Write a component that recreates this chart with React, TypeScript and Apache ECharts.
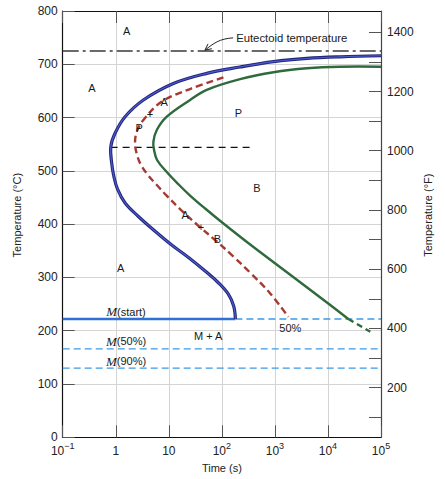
import React, { useEffect, useRef } from "react";
import * as echarts from "echarts";

// ---------- data ----------
const timeMin = 0.1;
const timeMax = 100000;
const tempMin = 0;
const tempMax = 800;
const tempInterval = 100;
const fahrenheitTicks = [100, 200, 300, 400, 500, 600, 700, 800, 900, 1000, 1100, 1200, 1300, 1400];
const fahrenheitLabels = [200, 400, 600, 800, 1000, 1200, 1400];

// start of transformation (time s, temperature °C)
const startCurve: [number, number][] = [
  [100000, 716], [17000, 714], [4020, 711], [942, 705], [221, 695], [52, 683],
  [12.2, 664], [3.32, 633], [1.5, 601.6], [0.97, 570.5], [0.806, 545],
  [0.84, 514], [0.92, 490], [1.08, 465.6], [1.5, 439.7], [2.64, 414.9],
  [5.52, 386.7], [11.5, 360.4], [24.2, 336.5], [48.4, 312], [85.1, 290.5],
  [131.5, 269], [167, 246.4], [180, 222],
];

// 50% completion
const halfCurve: [number, number][] = [
  [107, 675.5], [25.2, 653.6], [7.38, 630], [3.32, 595.4], [2.49, 573.5],
  [2.31, 551.7], [2.52, 529.7], [3.0, 511], [4.06, 492], [5.75, 475],
  [8.9, 454.6], [16.3, 428.4], [35.7, 397.4], [80.5, 367.4], [166, 339],
  [342, 309], [815, 270], [1782, 226],
];

// completion of transformation
const finishCurve: [number, number][] = [
  [100000, 695.5], [17000, 695.5], [4020, 692.5], [942, 685], [221, 672], [52, 652],
  [25.2, 633], [9.16, 601.6], [5.94, 576.6], [5.12, 554.7], [5.28, 539], [6.01, 520.4],
  [9.16, 497.9], [15, 475.4], [25.2, 453.7], [48.4, 429.3], [101.4, 403.1],
  [342, 361.8], [2090, 302.7], [11040, 248.3], [24200, 222],
];
const finishBelowMs: [number, number][] = [[24200, 222], [62800, 198]];

const eutectoidTemp = 725;
const noseTemp = 544;
const noseSpan = [0.8, 400];
const msStart = 222;
const ms50 = 166;
const ms90 = 130;
const msCurveEnd = 180;

const regionLabels: { text: string; t: number; T: number }[] = [
  { text: "A", t: 1.61, T: 762 },
  { text: "A", t: 0.357, T: 655 },
  { text: "A", t: 8.15, T: 630 },
  { text: "+", t: 4.43, T: 606.7 },
  { text: "P", t: 2.75, T: 580 },
  { text: "P", t: 206, T: 609 },
  { text: "B", t: 457, T: 467 },
  { text: "A", t: 20.3, T: 417 },
  { text: "+", t: 40.2, T: 395 },
  { text: "B", t: 82.7, T: 371.5 },
  { text: "A", t: 1.24, T: 317 },
  { text: "M + A", t: 55.2, T: 190.7 },
  { text: "50%", t: 1950, T: 206 },
];
const martensiteLabels: { suffix: string; t: number; T: number }[] = [
  { suffix: "(start)", t: 1.56, T: 235.7 },
  { suffix: "(50%)", t: 1.56, T: 180.7 },
  { suffix: "(90%)", t: 1.56, T: 143 },
];
const eutectoidLabel = { text: "Eutectoid temperature", t: 186, T: 748.7 };
const arrowTip = { t: 48, T: 725 };
const timeTitle = "Time (s)";
const celsiusTitle = "Temperature (°C)";
const fahrenheitTitle = "Temperature (°F)";

const c2f = (c: number) => (c * 9) / 5 + 32;

export default function App() {
  const ref = useRef<HTMLDivElement>(null);

  useEffect(() => {
    const chart = echarts.init(ref.current!, null, { renderer: "svg" });
    const sans = '"Liberation Sans", Arial, Helvetica, sans-serif';
    const serif = '"Liberation Serif", "Times New Roman", serif';
    const tickStyle = { color: "#555", width: 1 };

    const line = (data: [number, number][], color: string, width: number, type: any, z: number) => ({
      type: "line",
      data,
      xAxisIndex: 0,
      yAxisIndex: 0,
      symbol: "none",
      showSymbol: false,
      silent: true,
      z,
      lineStyle: { color, width, type, cap: "butt" },
    });

    // smooth curve drawn through the axis scales (api.coord)
    const curve = (data: [number, number][], color: string, width: number, dash: number[] | null, z: number) => ({
      type: "custom",
      xAxisIndex: 0,
      yAxisIndex: 0,
      data,
      silent: true,
      z,
      clip: false,
      renderItem: (params: any, api: any) => {
        if (params.dataIndex !== 0) return null;
        const pts = data.map((d) => api.coord(d));
        return {
          type: "polyline",
          shape: { points: pts, smooth: 0.38 },
          style: { stroke: color, lineWidth: width, lineDash: dash || undefined, fill: null, lineCap: "butt", lineJoin: "round" },
        };
      },
    });

    const xLabel = (v: number) => {
      const e = Math.round(Math.log10(v));
      if (e === 0) return "{b|1}";
      if (e === 1) return "{b|10}";
      return `{b|10}{s|${e < 0 ? "\u2212" + -e : e}}`;
    };

    const option: any = {
      animation: false,
      grid: { left: 62.7, right: 64, top: 11, bottom: 41.7, containLabel: false },
      xAxis: [
        {
          type: "log",
          logBase: 10,
          min: timeMin,
          max: timeMax,
          splitNumber: 6,
          position: "bottom",
          axisLine: { show: true, lineStyle: { color: "#111", width: 1.2 } },
          axisTick: { show: true, inside: true, length: 12, lineStyle: tickStyle },
          minorTick: { show: false },
          splitLine: { show: true, lineStyle: { color: "#d4d4d4", width: 1 } },
          axisLabel: {
            formatter: xLabel,
            margin: 4,
            color: "#222",
            rich: {
              b: { fontSize: 12, lineHeight: 20, fontFamily: sans, color: "#222" },
              s: { fontSize: 9, lineHeight: 10, verticalAlign: "top", fontFamily: sans, color: "#222" },
            },
          },
          name: timeTitle,
          nameLocation: "middle",
          nameGap: 25,
          nameTextStyle: { fontSize: 11, fontFamily: sans, color: "#222" },
        },
        {
          type: "log",
          logBase: 10,
          min: timeMin,
          max: timeMax,
          splitNumber: 6,
          position: "top",
          axisLine: { show: true, lineStyle: { color: "#111", width: 1.2 } },
          axisTick: { show: true, inside: true, length: 12, lineStyle: tickStyle },
          axisLabel: { show: false },
          splitLine: { show: false },
        },
      ],
      yAxis: [
        {
          type: "value",
          min: tempMin,
          max: tempMax,
          interval: tempInterval,
          position: "left",
          axisLine: { show: true, lineStyle: { color: "#111", width: 1.2 } },
          axisTick: { show: true, inside: true, length: 12, lineStyle: tickStyle },
          splitLine: { show: true, lineStyle: { color: "#d4d4d4", width: 1 } },
          axisLabel: { fontSize: 12, fontFamily: sans, color: "#222", margin: 5 },
        },
        {
          type: "value",
          min: c2f(tempMin),
          max: c2f(tempMax),
          position: "right",
          axisLine: { show: true, lineStyle: { color: "#444", width: 1.2 } },
          axisTick: { show: true, inside: true, length: 12, lineStyle: tickStyle, customValues: fahrenheitTicks },
          splitLine: { show: false },
          axisLabel: {
            fontSize: 12,
            fontFamily: sans,
            color: "#222",
            margin: 6,
            customValues: fahrenheitLabels,
            formatter: (v: number) => String(Math.round(v)),
          },
        },
      ],
      series: [
        line([[timeMin, eutectoidTemp], [timeMax, eutectoidTemp]], "#3a3a3a", 1.4, [16, 4, 3, 4], 3),
        line([[noseSpan[0], noseTemp], [noseSpan[1], noseTemp]], "#111", 1.2, [7, 5], 3),
        line([[timeMin, ms50], [timeMax, ms50]], "#3d9ae8", 1.3, [7, 4], 3),
        line([[timeMin, ms90], [timeMax, ms90]], "#3d9ae8", 1.3, [7, 4], 3),
        line([[msCurveEnd, msStart], [timeMax, msStart]], "#3d9ae8", 1.3, [7, 4], 3),
        line([[timeMin, msStart], [msCurveEnd, msStart]], "#2f6fd8", 2.5, "solid", 4),
        curve(finishCurve, "#2f6a3c", 2.4, null, 5),
        line(finishBelowMs, "#2f6a3c", 2.4, [6, 4], 5),
        curve(halfCurve, "#a53a34", 2.4, [7, 4], 5),
        curve(startCurve, "#23277a", 3.2, null, 6),
        curve(startCurve, "#4d5bd0", 1.1, null, 7),
      ],
    };
    chart.setOption(option);

    const px = (t: number, T: number) =>
      chart.convertToPixel({ xAxisIndex: 0, yAxisIndex: 0 }, [t, T]) as number[];

    const graphics: any[] = [];
    regionLabels.forEach((l) => {
      const p = px(l.t, l.T);
      graphics.push({
        type: "text",
        x: p[0],
        y: p[1],
        silent: true,
        z: 100,
        style: { text: l.text, fontSize: 11, fontFamily: sans, fill: "#1a1a1a", align: "center", verticalAlign: "middle" },
      });
    });
    martensiteLabels.forEach((l) => {
      const p = px(l.t, l.T);
      graphics.push({
        type: "text",
        x: p[0],
        y: p[1],
        silent: true,
        z: 100,
        style: {
          text: `{m|M}{s|${l.suffix}}`,
          align: "center",
          verticalAlign: "middle",
          fill: "#1a1a1a",
          rich: {
            m: { fontFamily: serif, fontStyle: "italic", fontSize: 13, fill: "#1a1a1a" },
            s: { fontFamily: sans, fontSize: 11, fill: "#1a1a1a" },
          },
        },
      });
    });

    const lp = px(eutectoidLabel.t, eutectoidLabel.T);
    graphics.push({
      type: "text",
      x: lp[0],
      y: lp[1],
      silent: true,
      z: 100,
      style: { text: eutectoidLabel.text, fontSize: 11.3, fontFamily: sans, fill: "#1a1a1a", align: "left", verticalAlign: "middle" },
    });
    const tip = px(arrowTip.t, arrowTip.T);
    tip[1] -= 0.8;
    const start = [lp[0] - 3, lp[1] - 0.5];
    const cp1 = [start[0] - 14, start[1] + 1];
    const cp2 = [tip[0] + 9, tip[1] - 7];
    graphics.push({
      type: "bezierCurve",
      silent: true,
      z: 100,
      shape: { x1: start[0], y1: start[1], cpx1: cp1[0], cpy1: cp1[1], cpx2: cp2[0], cpy2: cp2[1], x2: tip[0], y2: tip[1] },
      style: { stroke: "#222", lineWidth: 1, fill: null },
    });
    const dx = cp2[0] - tip[0];
    const dy = cp2[1] - tip[1];
    const len = Math.hypot(dx, dy);
    const ux = dx / len;
    const uy = dy / len;
    const wing = (a: number) => [tip[0] + 7 * (ux * Math.cos(a) - uy * Math.sin(a)), tip[1] + 7 * (ux * Math.sin(a) + uy * Math.cos(a))];
    graphics.push({
      type: "polyline",
      silent: true,
      z: 100,
      shape: { points: [wing(0.45), tip, wing(-0.45)] },
      style: { stroke: "#222", lineWidth: 1, fill: null },
    });

    const midY = (px(1, tempMin)[1] + px(1, tempMax)[1]) / 2 - 9;
    graphics.push({
      type: "text",
      x: 17,
      y: midY,
      rotation: Math.PI / 2,
      silent: true,
      style: { text: celsiusTitle, fontSize: 11, fontFamily: sans, fill: "#222", align: "center", verticalAlign: "middle" },
    });
    graphics.push({
      type: "text",
      x: 428,
      y: midY,
      rotation: Math.PI / 2,
      silent: true,
      style: { text: fahrenheitTitle, fontSize: 11, fontFamily: sans, fill: "#222", align: "center", verticalAlign: "middle" },
    });

    chart.setOption({ graphic: graphics });

    return () => chart.dispose();
  }, []);

  return <div ref={ref} style={{ position: "fixed", left: 0, top: 0, width: 445, height: 479, background: "#fff" }} />;
}
